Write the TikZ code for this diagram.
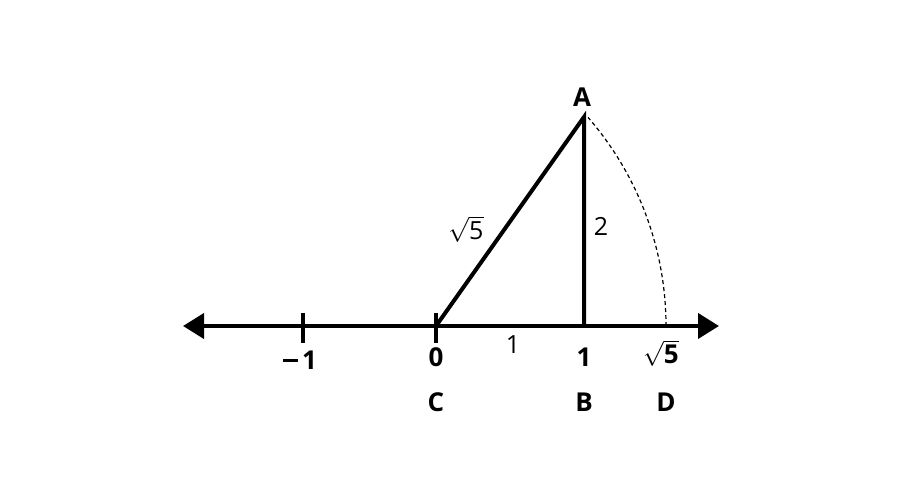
\documentclass[tikz,border=0pt]{standalone}
\usepackage{fontspec}
\setmainfont{Open Sans}
\usetikzlibrary{arrows.meta}
\newcommand\rootfive{\ensuremath{\sqrt{\mbox{5}}}}
\newcommand\boldrootfive{\ensuremath{\sqrt{\mbox{\bfseries 5}}}}
\newcommand\boldminus{\rule[7pt]{15pt}{3.2pt}\kern4pt}

\begin{document}
\begin{tikzpicture}[x=1pt, y=1pt,
  every node/.style={inner sep=0pt, outer sep=0pt},
  axisline/.style={line width=4pt, {Triangle[length=21pt,width=25pt]}-{Triangle[length=21pt,width=25pt]}},
  sideline/.style={line width=4pt, line cap=round},
  tickmark/.style={line width=3.5pt},
  ptlabel/.style={font=\fontsize{26}{30}\selectfont\bfseries},
  numlabel/.style={font=\fontsize{26}{30}\selectfont\bfseries},
  lenlabel/.style={font=\fontsize{25}{29}\selectfont}]
\useasboundingbox (0,0) rectangle (917,502);

\coordinate (L) at (183,176);
\coordinate (R) at (719,176);
\coordinate (M) at (303,176);
\coordinate (C) at (436,176);
\coordinate (B) at (584,176);
\coordinate (A) at (584,385);
\coordinate (D) at (666,176);

\draw[axisline] (L) -- (R);
\draw[tickmark] ([yshift=13pt]M) -- ([yshift=-17pt]M);
\draw[tickmark] ([yshift=13pt]C) -- ([yshift=-17pt]C);

\draw[sideline] (C) -- (A) -- (B);
\draw[dashed, line width=1.2pt, dash pattern=on 4pt off 3pt] (D) arc[start angle=0, end angle=41, radius=318];

\node[ptlabel] (lA) at (582,405) {A};
\node[lenlabel] (lAC) at (466,273) {\rootfive};
\node[lenlabel] (lAB) at (601,276) {2};
\node[lenlabel] (lCB) at (513,157) {1};

\node[numlabel] (nM) at (300,142) {\boldminus1};
\node[numlabel] (nC) at (436,145) {0};
\node[numlabel] (nB) at (584,145) {1};
\node[numlabel] (nD) at (661,149) {\boldrootfive};

\node[ptlabel] (lC) at (436,100) {C};
\node[ptlabel] (lB) at (584,100) {B};
\node[ptlabel] (lD) at (666,100) {D};
\end{tikzpicture}
\end{document}
